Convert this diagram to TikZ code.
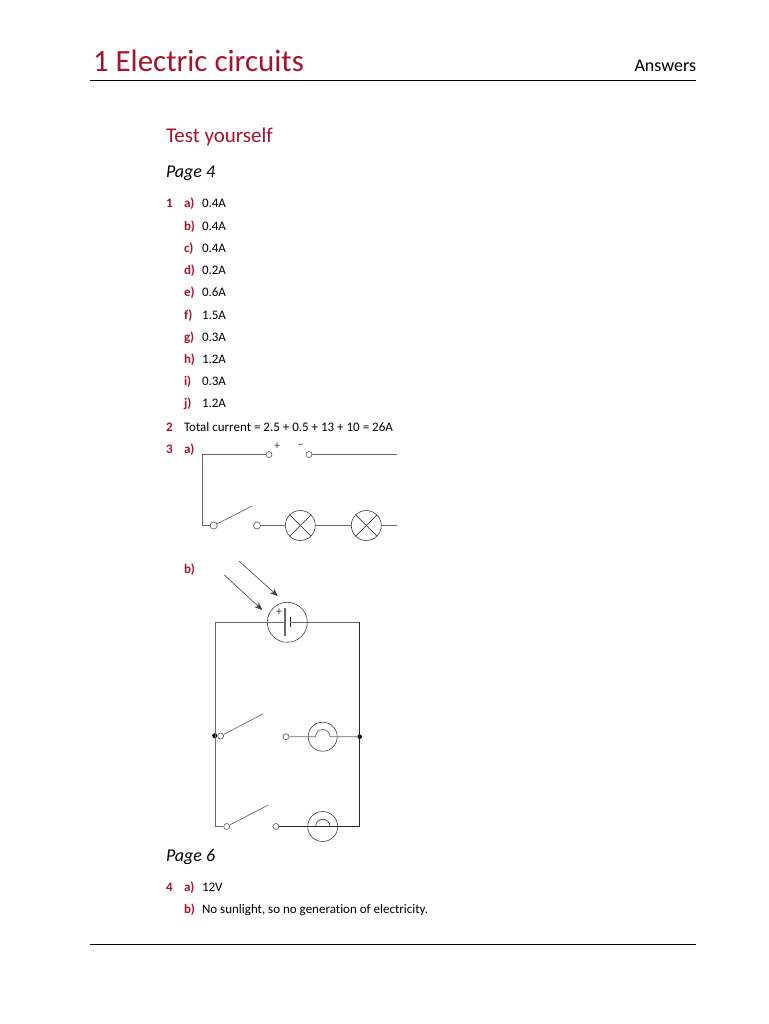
\documentclass[tikz,border=0pt]{standalone}
\usepackage{fontspec}
\setmainfont{Carlito}[Ligatures=NoCommon]
\usetikzlibrary{arrows.meta}
\definecolor{titleRed}{RGB}{168,18,42}
\definecolor{wireGrey}{RGB}{105,105,105}
\tikzstyle{page} = [x = 1pt, y = -1pt]
\tikzstyle{textLine} = [anchor=base west, inner sep=0pt, outer sep=0pt]
\tikzstyle{answerText} = [textLine, font=\fontsize{13}{15}\selectfont]
\tikzstyle{answerLabel} = [textLine, font=\fontsize{13}{15}\selectfont\bfseries, text=titleRed]
\tikzstyle{pageHead} = [textLine, font=\fontsize{18}{21}\selectfont\itshape]
\tikzstyle{rule} = [color=black, line width=0.9pt]
\tikzstyle{wire} = [color=wireGrey, line width=0.7pt]
\tikzstyle{heavyWire} = [color=black!85, line width=1pt]
\tikzstyle{contact} = [circle, draw=wireGrey, fill=white, line width=0.7pt, minimum size=7pt, inner sep=0pt]
\tikzstyle{junction} = [circle, fill=black, minimum size=5pt, inner sep=0pt]
\tikzstyle{lamp} = [circle, draw=black!75, line width=0.6pt, minimum size=30pt, inner sep=0pt]
\tikzstyle{sunRay} = [color=black!75, line width=0.6pt, -{Stealth[length=8pt,width=6.5pt]}]
\tikzstyle{polarity} = [inner sep=0pt, font=\fontsize{12}{13}\selectfont, text=black!75]
\begin{document}
\begin{tikzpicture}[page]
  \useasboundingbox (0,0) rectangle (768,1024);
  % header
  \node [textLine, font=\fontsize{30.9}{34}\selectfont, text=titleRed] (chapterTitle) at (93,71.5) {1 Electric circuits};
  \node [textLine, anchor=base east, font=\fontsize{18}{21}\selectfont] (answersTag) at (696,71.5) {Answers};
  \coordinate (headL) at (90,80.5);
  \coordinate (headR) at (696,80.5);
  \draw [rule] (headL) -- (headR);
  \node [textLine, font=\fontsize{21}{25}\selectfont, text=titleRed] (testHead) at (166,143) {Test yourself};
  \node [pageHead] (pageFour) at (166,177.5) {Page 4};
  % answers to question 1
  \node [answerLabel] (numOne) at (166,208) {1};
  \foreach \lab/\val [count=\i] in {a/0.4A, b/0.4A, c/0.4A, d/0.2A, e/0.6A, f/1.5A, g/0.3A, h/1.2A, i/0.3A, j/1.2A} {
    \pgfmathsetmacro{\rowY}{208 + 22.2 * (\i - 1)}
    \node [answerLabel] (lab\i) at (184,\rowY) {\lab)};
    \node [answerText] (val\i) at (202,\rowY) {\val};
  }
  \node [answerLabel] (numTwo) at (166,431) {2};
  \node [answerText] (totalLine) at (184,431) {Total current = 2.5 + 0.5 + 13 + 10 = 26A};
  \node [answerLabel] (numThree) at (166,453) {3};
  \node [answerLabel] (labThreeA) at (184,453) {a)};
  % circuit a
  \node [contact, minimum size=6pt] (battPlus) at (269,454.5) {};
  \node [contact, minimum size=6pt] (battMinus) at (309,454.5) {};
  \node [polarity] (plusMark) at (277,446) {+};
  \node [polarity] (minusMark) at (300.5,446) {−};
  \node [contact] (switchPivot) at (213.7,525.5) {};
  \node [contact] (switchStop) at (257,525.5) {};
  \node [lamp] (lampOne) at (300.3,525.5) {};
  \node [lamp] (lampTwo) at (366.3,525.5) {};
  \coordinate (cornerTop) at (202,454.5);
  \coordinate (cornerLow) at (202,525.5);
  \coordinate (endTop) at (397,454.5);
  \coordinate (endLow) at (397,525.5);
  \coordinate (armTip) at (252.7,505.7);
  \draw [wire] (battPlus) -- (cornerTop) -- (cornerLow) -- (switchPivot);
  \draw [wire] (battMinus) -- (endTop);
  \draw [wire] (switchPivot) -- (armTip);
  \draw [wire] (switchStop) -- (lampOne) -- (lampTwo) -- (endLow);
  \foreach \lampName in {lampOne, lampTwo} {
    \draw [wire, color=black!75] (\lampName.45) -- (\lampName.225);
    \draw [wire, color=black!75] (\lampName.135) -- (\lampName.315);
  }
  % circuit b
  \node [answerLabel] (labThreeB) at (184,573) {b)};
  \node [lamp, minimum size=40pt] (solarCell) at (287.3,622.3) {};
  \coordinate (rayOneA) at (239,561);
  \coordinate (rayOneB) at (277.7,596);
  \coordinate (rayTwoA) at (224.3,575);
  \coordinate (rayTwoB) at (262.3,610);
  \draw [sunRay] (rayOneA) -- (rayOneB);
  \draw [sunRay] (rayTwoA) -- (rayTwoB);
  \coordinate (longTop) at (285,608);
  \coordinate (longLow) at (285,636);
  \coordinate (shortTop) at (290,617);
  \coordinate (shortLow) at (290,627);
  \coordinate (longMid) at (285,622.3);
  \coordinate (shortMid) at (290,622.3);
  \draw [heavyWire, color=wireGrey, line width=1.2pt] (longTop) -- (longLow);
  \draw [heavyWire] (shortTop) -- (shortLow);
  \node [polarity] (cellPlus) at (279,612) {+};
  \coordinate (frameTL) at (215.3,622.3);
  \coordinate (frameTR) at (359.7,622.3);
  \coordinate (frameBL) at (215.3,826.5);
  \coordinate (frameBR) at (359.7,826.5);
  \node [junction] (joinLeft) at (214.7,735.7) {};
  \node [junction, minimum size=4.5pt] (joinRight) at (359.7,736.7) {};
  \node [contact, minimum size=6pt] (pivotUp) at (220.7,736) {};
  \node [contact, minimum size=6pt] (stopUp) at (286,736.7) {};
  \node [contact, minimum size=6pt] (pivotLow) at (226.7,826.5) {};
  \node [contact, minimum size=6pt] (stopLow) at (276,826.5) {};
  \node [lamp, minimum size=29pt] (lampUp) at (322.7,736.7) {};
  \node [lamp, minimum size=30pt] (lampLow) at (322.7,826.5) {};
  \coordinate (armUp) at (263.3,713.7);
  \coordinate (armLow) at (268.3,805);
  \coordinate (filUpL) at (315.5,736.7);
  \coordinate (filLowL) at (315.5,826.5);
  \draw [wire] (frameBL) -- (frameTL) -- (longMid);
  \draw [wire] (shortMid) -- (frameTR);
  \draw [heavyWire] (frameTR) -- (frameBR);
  \draw [wire] (frameBL) -- (pivotLow);
  \draw [wire] (pivotUp) -- (armUp);
  \draw [wire] (pivotLow) -- (armLow);
  \draw [wire] (stopUp) -- (filUpL) arc [start angle=180, end angle=360, radius=7.25] -- (joinRight);
  \draw [heavyWire, line width=0.8pt] (stopLow) -- (frameBR);
  \draw [wire, color=black!75] (filLowL) arc [start angle=180, end angle=360, radius=7.25];
  \node [pageHead] (pageSix) at (166,861) {Page 6};
  % answers to question 4
  \node [answerLabel] (numFour) at (166,891) {4};
  \node [answerLabel] (labFourA) at (184,891) {a)};
  \node [answerText] (twelveVolt) at (202,891) {12V};
  \node [answerLabel] (labFourB) at (184,913) {b)};
  \node [answerText] (noSun) at (202,913) {No sunlight, so no generation of electricity.};
  % footer
  \coordinate (footL) at (90,944);
  \coordinate (footR) at (696,944);
  \draw [rule] (footL) -- (footR);
\end{tikzpicture}
\end{document}
